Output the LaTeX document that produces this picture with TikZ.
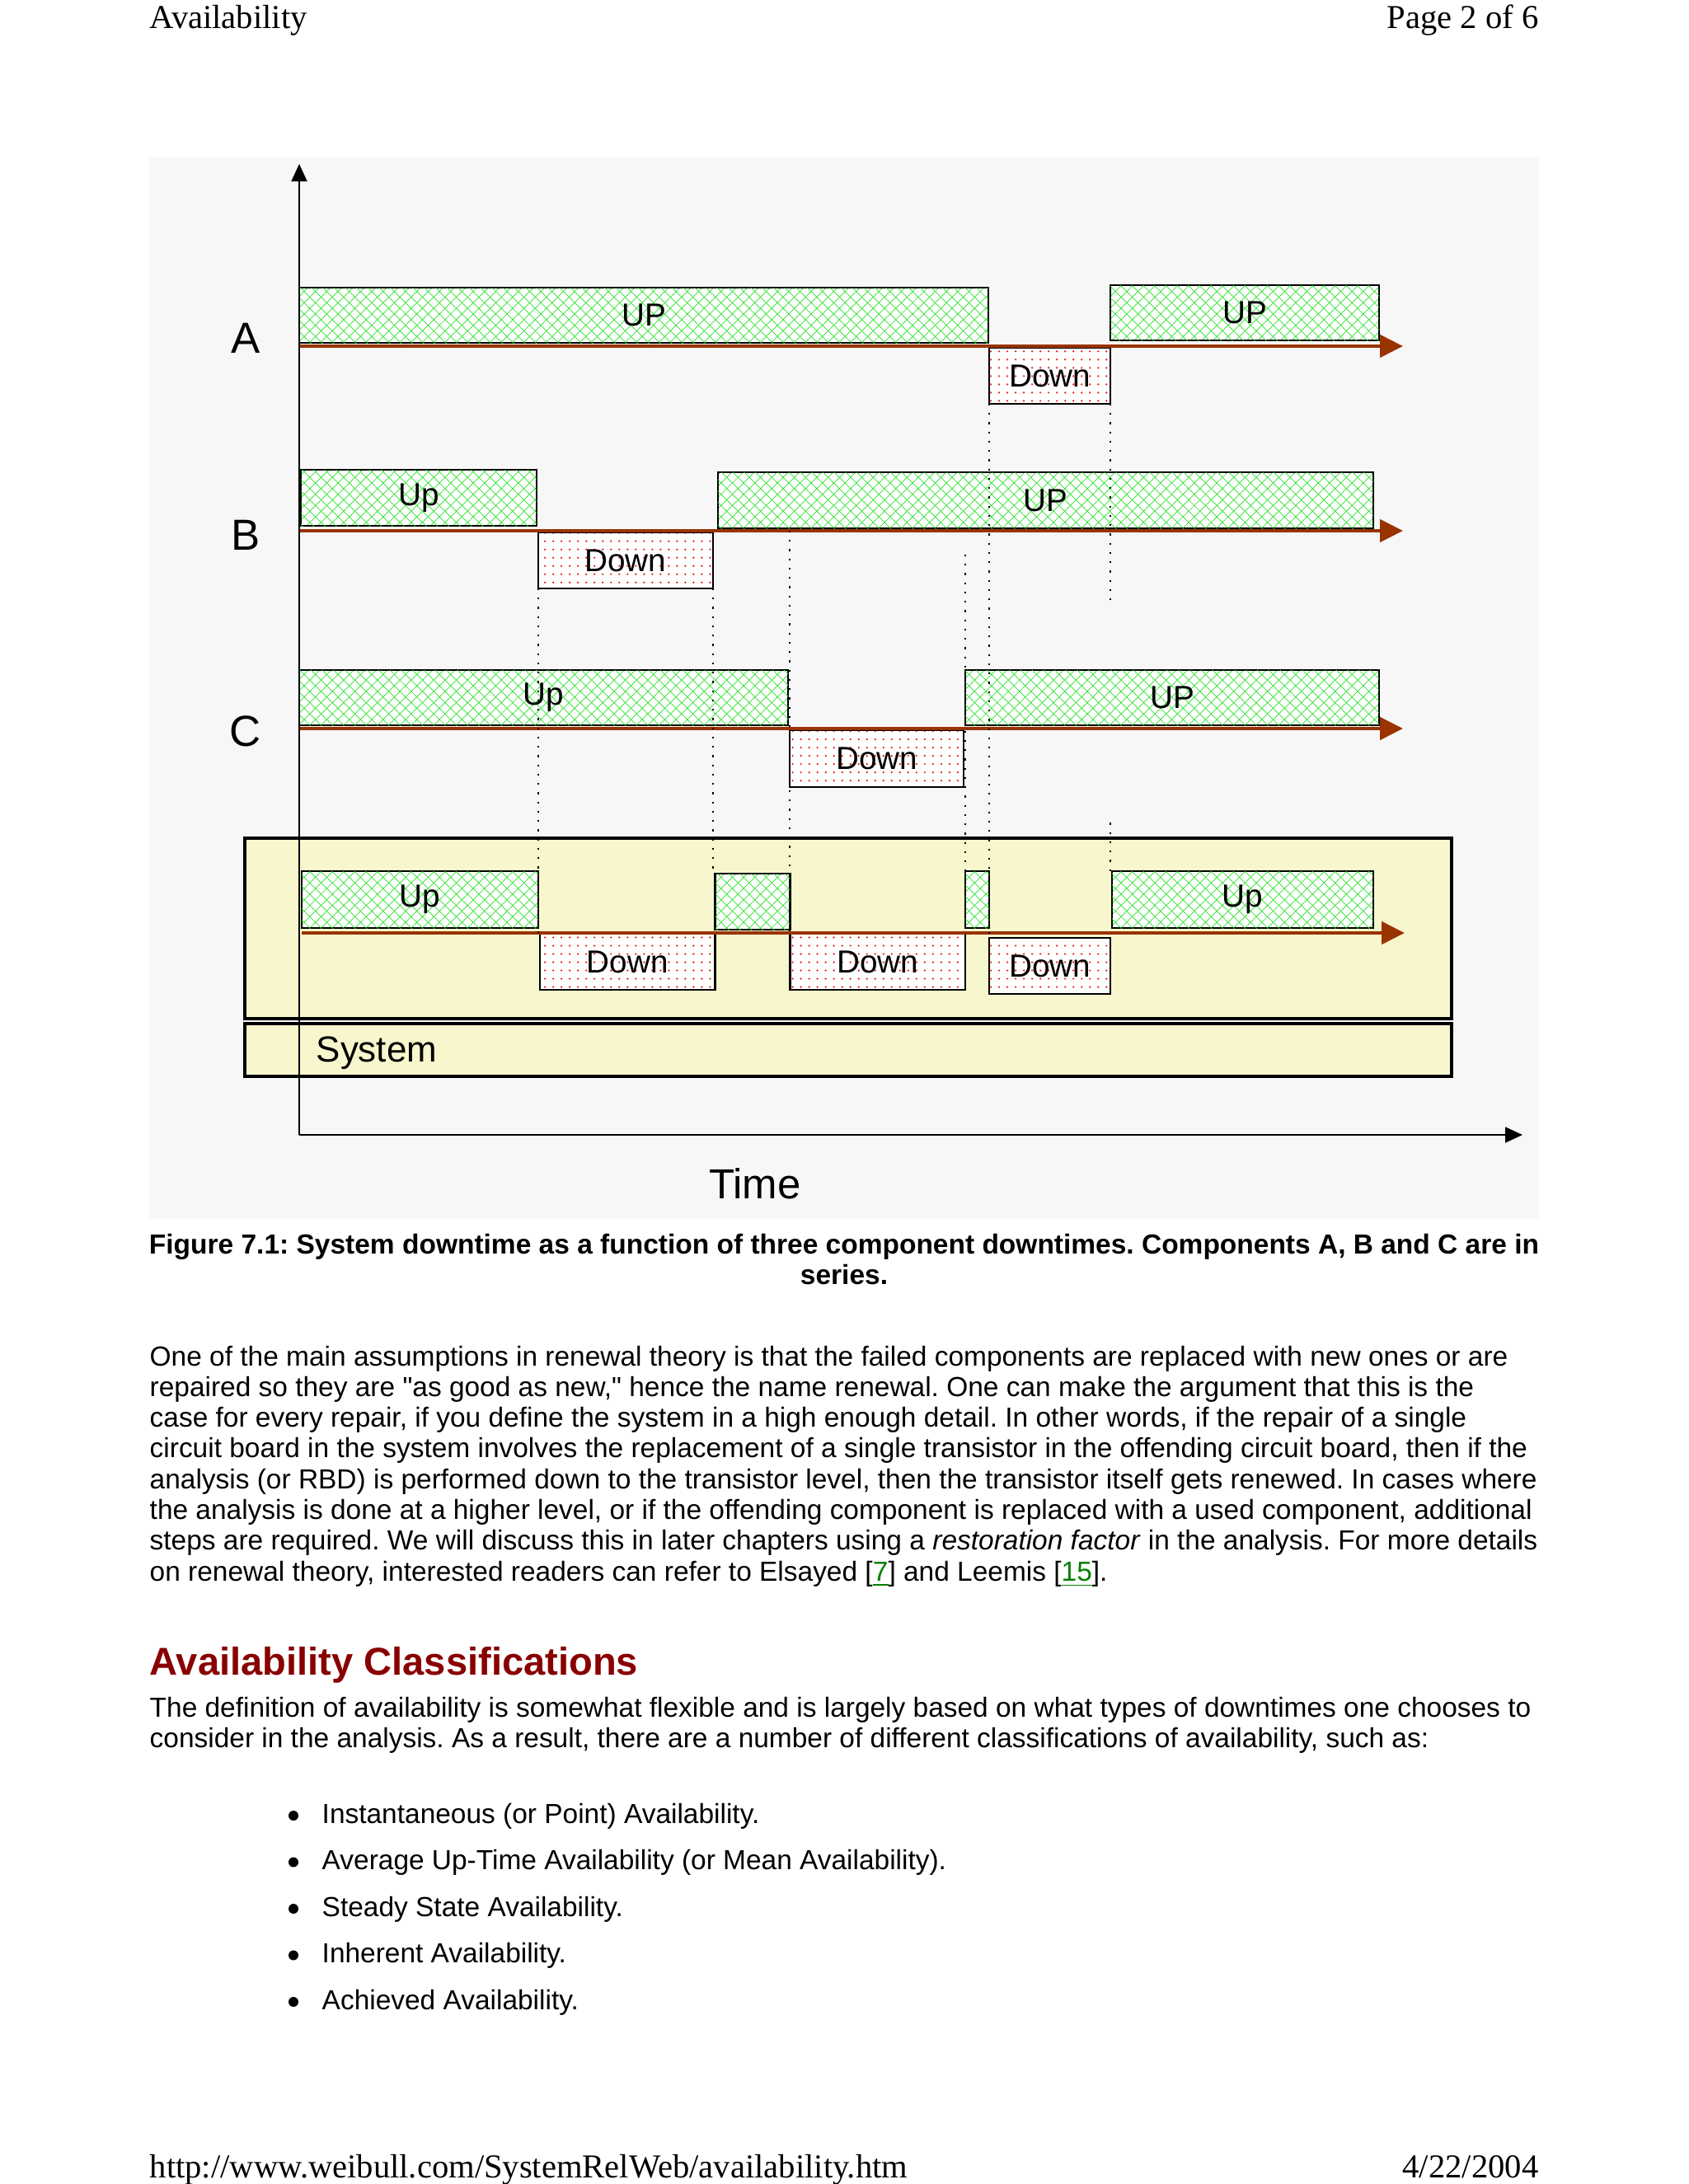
\documentclass[tikz,border=0pt]{standalone}
\usepackage{fontspec}
\setmainfont{Liberation Sans}
\newfontfamily\serifhead{Liberation Serif}
\usetikzlibrary{arrows.meta,patterns,patterns.meta,positioning}

\definecolor{figbg}{RGB}{247,247,247}
\definecolor{sysyellow}{RGB}{247,246,204}
\definecolor{axisbrown}{RGB}{153,51,0}
\definecolor{hatchgreen}{RGB}{40,225,40}
\definecolor{dotred}{RGB}{235,20,20}
\definecolor{headred}{RGB}{136,0,0}
\definecolor{linkgreen}{RGB}{0,128,0}

\tikzset{
  upbox/.style={draw=black,line width=0.7pt,inner sep=0pt,outer sep=0pt,preaction={fill=white},
    pattern={Lines[angle=45,distance=2.75pt,line width=0.2pt]},pattern color=hatchgreen,
    postaction={pattern={Lines[angle=-45,distance=2.75pt,line width=0.2pt]},pattern color=hatchgreen},
    font=\fontsize{11}{13}\selectfont},
  downbox/.style={draw=black,line width=0.7pt,inner sep=0pt,outer sep=0pt,preaction={fill=white},
    pattern={Dots[distance=2.85pt,radius=0.35pt]},pattern color=dotred,font=\fontsize{11}{13}\selectfont},
  sysbox/.style={draw=black,line width=0.9pt,fill=sysyellow,inner sep=0pt},
  timeline/.style={draw=axisbrown,line width=1.4pt,-{Triangle[length=0.28cm,width=0.27cm]}},
  axisline/.style={draw=black,line width=0.5pt,-{Triangle[length=0.21cm,width=0.19cm]}},
  vdot/.style={draw=black,line width=0.6pt,dash pattern=on 0.6pt off 2.6pt},
  rowlabel/.style={font=\fontsize{15}{17}\selectfont},
  bodytext/.style={anchor=base west,font=\fontsize{9.52}{11}\selectfont},
  pagetext/.style={font=\serifhead\fontsize{11.55}{13}\selectfont},
}

\begin{document}
\frenchspacing
\begin{tikzpicture}[x=1cm,y=-1cm,inner sep=0pt]
\useasboundingbox (0,0) rectangle (20.48,26.5);
\fill[white] (0,0) rectangle (20.48,26.5);
\fill[figbg] (1.81,1.91) rectangle (18.67,14.79);

\node[pagetext,anchor=base west] (hdrLeft) at (1.81,0.35) {Availability};
\node[pagetext,anchor=base east] (hdrRight) at (18.67,0.35) {Page 2 of 6};

\node[sysbox,minimum width=14.64cm,minimum height=2.19cm] (sysPanel) at (10.29,11.265) {};
\node[sysbox,minimum width=14.64cm,minimum height=0.64cm] (sysBar) at (10.29,12.74) {};
\node[anchor=base west,font=\fontsize{12.5}{14}\selectfont] (sysLabel) at (3.83,12.88) {System};

\node[rowlabel] (labA) at (2.98,4.10) {A};
\node[rowlabel] (labB) at (2.98,6.49) {B};
\node[rowlabel] (labC) at (2.98,8.87) {C};

\node[upbox,minimum width=8.36cm,minimum height=0.67cm] (aUp1) at (7.81,3.825) {UP};
\node[downbox,minimum width=1.47cm,minimum height=0.68cm] (aDown) at (12.735,4.56) {Down};
\node[upbox,minimum width=3.26cm,minimum height=0.67cm] (aUp2) at (15.10,3.795) {UP};

\node[upbox,minimum width=2.86cm,minimum height=0.68cm] (bUp1) at (5.08,6.04) {Up};
\node[downbox,minimum width=2.12cm,minimum height=0.68cm] (bDown) at (7.59,6.80) {Down};
\node[upbox,minimum width=7.95cm,minimum height=0.68cm] (bUp2) at (12.685,6.07) {UP};

\node[upbox,minimum width=5.93cm,minimum height=0.67cm] (cUp1) at (6.595,8.465) {Up};
\node[downbox,minimum width=2.11cm,minimum height=0.69cm] (cDown) at (10.635,9.205) {Down};
\node[upbox,minimum width=5.02cm,minimum height=0.67cm] (cUp2) at (14.22,8.465) {UP};

\node[upbox,minimum width=2.87cm,minimum height=0.69cm] (sUp1) at (5.095,10.915) {Up};
\node[downbox,minimum width=2.125cm,minimum height=0.68cm] (sDown1) at (7.6125,11.67) {Down};
\node[upbox,minimum width=0.91cm,minimum height=0.68cm] (sUp2) at (9.13,10.94) {};
\node[downbox,minimum width=2.125cm,minimum height=0.68cm] (sDown2) at (10.6475,11.67) {Down};
\node[upbox,minimum width=0.29cm,minimum height=0.69cm] (sUp3) at (11.855,10.915) {};
\node[downbox,minimum width=1.47cm,minimum height=0.68cm] (sDown3) at (12.735,11.72) {Down};
\node[upbox,minimum width=3.17cm,minimum height=0.69cm] (sUp4) at (15.075,10.915) {Up};

\coordinate (aStart) at (3.63,4.20); \coordinate (aEnd) at (17.02,4.20);
\coordinate (bStart) at (3.63,6.44); \coordinate (bEnd) at (17.02,6.44);
\coordinate (cStart) at (3.63,8.84); \coordinate (cEnd) at (17.02,8.84);
\coordinate (sStart) at (3.66,11.32); \coordinate (sEnd) at (17.04,11.32);
\draw[timeline] (aStart)--(aEnd); \draw[timeline] (bStart)--(bEnd);
\draw[timeline] (cStart)--(cEnd); \draw[timeline] (sStart)--(sEnd);

\draw[vdot] (bDown.south west)--(bDown.south west |- sDown1.north);
\draw[vdot] (bDown.south east)--(bDown.south east |- sUp2.north);
\draw[vdot] (cDown.north west |- bStart)--(cDown.north west |- sDown2.north);
\draw[vdot] (cUp2.north west) ++(0,-1.40)--(cUp2.north west |- sDown2.north);
\draw[vdot] (aDown.south west)--(aDown.south west |- sDown3.north);
\draw[vdot] (aDown.south east)--++(0,2.40);
\draw[vdot] (aDown.south east |- sysPanel.north)++(0,-0.17)--(aDown.south east |- sUp4.north);

\coordinate (origin) at (3.63,13.77);
\coordinate (yTop) at (3.63,1.99);
\coordinate (xEnd) at (18.47,13.77);
\draw[axisline] (origin)--(yTop); \draw[axisline] (origin)--(xEnd);
\node[font=\fontsize{14.5}{16}\selectfont] (timeLabel) at (9.16,14.36) {Time};

\node[anchor=base,font=\bfseries\fontsize{9.53}{11}\selectfont] (cap1) at (10.24,15.21) {Figure 7.1: System downtime as a function of three component downtimes. Components A, B and C are in};
\node[anchor=base,font=\bfseries\fontsize{9.53}{11}\selectfont] (cap2) at (10.24,15.58) {series.};

\foreach \txt [count=\i] in {
  {One of the main assumptions in renewal theory is that the failed components are replaced with new ones or are},
  {repaired so they are \textquotedbl as good as new,\textquotedbl{} hence the name renewal. One can make the argument that this is the},
  {case for every repair, if you define the system in a high enough detail. In other words, if the repair of a single},
  {circuit board in the system involves the replacement of a single transistor in the offending circuit board, then if the},
  {analysis (or RBD) is performed down to the transistor level, then the transistor itself gets renewed. In cases where},
  {the analysis is done at a higher level, or if the offending component is replaced with a used component, additional},
  {steps are required. We will discuss this in later chapters using a \textit{restoration factor} in the analysis. For more details},
  {on renewal theory, interested readers can refer to Elsayed [\textcolor{linkgreen}{\underline{7}}] and Leemis [\textcolor{linkgreen}{\underline{15}}].}}
  \node[bodytext] (renewal\i) at (1.81,{16.57+0.373*(\i-1)}) {\txt};

\node[anchor=base west,font=\bfseries\fontsize{13.4}{15}\selectfont,text=headred] (classHead) at (1.81,20.32) {Availability Classifications};

\foreach \txt [count=\i] in {
  {The definition of availability is somewhat flexible and is largely based on what types of downtimes one chooses to},
  {consider in the analysis. As a result, there are a number of different classifications of availability, such as:}}
  \node[bodytext] (classDef\i) at (1.81,{20.83+0.373*(\i-1)}) {\txt};

\foreach \txt [count=\i] in {
  {Instantaneous (or Point) Availability.},
  {Average Up-Time Availability (or Mean Availability).},
  {Steady State Availability.},
  {Inherent Availability.},
  {Achieved Availability.}} {
  \node[circle,fill=black,minimum size=0.12cm] (bullet\i) at (3.56,{22.03+0.565*(\i-1)}) {};
  \node[bodytext] (item\i) at (3.90,{22.12+0.565*(\i-1)}) {\txt};
}

\node[pagetext,anchor=base west] (ftrLeft) at (1.81,26.42) {http://www.weibull.com/SystemRelWeb/availability.htm};
\node[pagetext,anchor=base east] (ftrRight) at (18.67,26.42) {4/22/2004};
\end{tikzpicture}
\end{document}
